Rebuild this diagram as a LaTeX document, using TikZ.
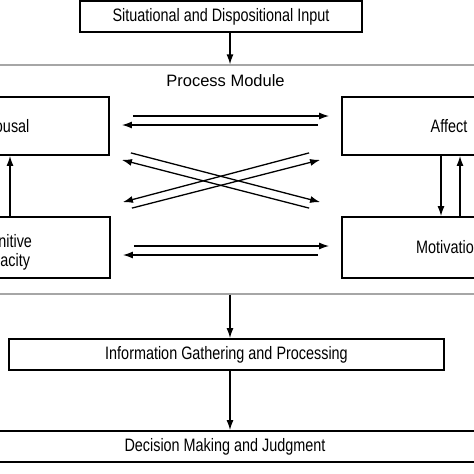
\documentclass[tikz,border=0pt]{standalone}
\usepackage{fontspec}
\setmainfont{Liberation Sans}
\newfontfamily\narrowfont[FakeStretch=0.8]{Liberation Sans}
\usetikzlibrary{arrows.meta,positioning}

\begin{document}
\begin{tikzpicture}[
    x=1pt, y=-1pt,
    box/.style={draw, line width=1.8pt, inner sep=0pt, font=\narrowfont\fontsize{18}{19}\selectfont},
    sideWidth/.style={minimum width=208pt},
    sideHeight/.style={minimum height=58pt},
    arr/.style={->, >={Latex[length=10pt,width=7pt]}, line width=1.3pt},
    every node/.style={
        text centered,
        }
        ]
    \useasboundingbox (0,0) rectangle (474,474);
    \clip (0,0) rectangle (474,474);

    \node[box, minimum width=282pt, minimum height=31pt] (input) at (221,16.5) {Situational and Dispositional Input};

    \node[draw=black!35, line width=1.3pt, minimum width=520pt, minimum height=229pt] (module) at (230,179.5) {};
    \node[font=\fontsize{16.5}{18}\selectfont] (moduleLabel) at (225.5,81) {Process Module};

    \node[box, sideWidth, sideHeight] (arousal) at (5,126) {Arousal};
    \node[box, minimum width=216pt, minimum height=61pt, align=center] (cognitive) at (2,247.5) {\rule{0pt}{22pt}Cognitive\\Capacity};
    \node[box, minimum width=214pt, sideHeight] (affect) at (449,126) {Affect};
    \node[box, minimum width=214pt, minimum height=61pt] (motivation) at (449,247.5) {Motivation};

    \node[box, minimum width=435pt, minimum height=31pt] (info) at (226.5,354.5) {Information Gathering and Processing};
    \node[box, minimum width=520pt, minimum height=31pt] (decision) at (225,446.5) {Decision Making and Judgment};

    \draw[arr] (input.south -| module.north) -- (module.north);
    \draw[arr] (module.south) -- (info.north -| module.south);
    \draw[arr] (info.south -| module.south) -- (decision.north -| module.south);

    \draw[arr] ([xshift=8pt]cognitive.north) -- ([xshift=5pt]arousal.south);
    \draw[arr] ([xshift=-8pt]affect.south) -- ([xshift=-8pt]motivation.north);
    \draw[arr] ([xshift=11pt]motivation.north) -- ([xshift=11pt]affect.south);

    \draw[arr, shorten <=23pt, shorten >=12pt] ([yshift=10pt]arousal.east) -- ([yshift=10pt]affect.west);
    \draw[arr, shorten <=23pt, shorten >=12pt] ([yshift=1pt]affect.west) -- ([yshift=1pt]arousal.east);
    \draw[arr, shorten <=23pt, shorten >=12pt] ([yshift=1.5pt]cognitive.east) -- ([yshift=1.5pt]motivation.west);
    \draw[arr, shorten <=23pt, shorten >=12pt] ([yshift=-7.5pt]motivation.west) -- ([yshift=-7.5pt]cognitive.east);

    \draw[arr] ([shift={(21,-3)}]arousal.south east) -- ([shift={(-21,-14)}]motivation.north west);
    \draw[arr] ([shift={(-32,-8)}]motivation.north west) -- ([shift={(12,4)}]arousal.south east);
    \draw[arr] ([shift={(21,-8)}]cognitive.north east) -- ([shift={(-21,4)}]affect.south west);
    \draw[arr] ([shift={(-32,-3)}]affect.south west) -- ([shift={(12,-14)}]cognitive.north east);
\end{tikzpicture}
\end{document}
